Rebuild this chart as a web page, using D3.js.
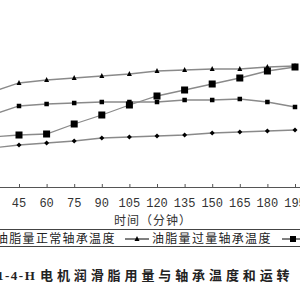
<!DOCTYPE html>
<html>
<head>
<meta charset="utf-8">
<script src="https://cdn.jsdelivr.net/npm/d3@7"></script>
<style>
  html, body { margin: 0; padding: 0; background: #fff; }
  svg { display: block; }
</style>
</head>
<body>
<script>
// time in minutes (first point sits just off the left edge)
const minutes = [30, 45, 60, 75, 90, 105, 120, 135, 150, 165, 180, 195]
const tickLabels = ['45', '60', '75', '90', '105', '120', '135', '150', '165', '180', '195']

// bearing temperature series
const seriesTriangle = [43.75, 46, 46.75, 47.25, 47.75, 48.25, 49, 49.25, 49.5, 49.5, 50, 50.25]
const seriesSmallSq  = [38, 40.25, 40.75, 41, 41.25, 41.25, 41.25, 41.75, 41.75, 42, 41.25, 40]
const seriesBigSq    = [32.5, 33, 33.25, 35.75, 38, 40.5, 42.75, 44.25, 45.75, 47.25, 49, 50]
const seriesDot      = [29.75, 30.5, 31, 31.5, 32.25, 32.5, 32.75, 33, 33.5, 33.75, 34, 34.25]

const legendLabels = ['油脂量正常轴承温度', '油脂量过量轴承温度']
const axisTitle = '时间（分钟）'
const captionNum = '1-4-H'
const captionText = '电机润滑脂用量与轴承温度和运转'

const width = 300
const height = 300

const svg = d3.select('body')
  .append('svg')
  .attr('width', width)
  .attr('height', height)

const x = d3.scaleLinear().domain([45, 195]).range([19, 295])
const y = d3.scaleLinear().domain([20, 50]).range([187, 67])

const line = d3.line()
  .x((d, i) => x(minutes[i]))
  .y(d => y(d))

// x axis with upward ticks
const axis = svg.append('g')
  .attr('transform', 'translate(0,187)')
  .call(d3.axisTop(x).tickValues(minutes.slice(1)).tickSize(3).tickFormat(''))
axis.select('.domain').remove()
axis.selectAll('.tick line').attr('stroke', '#555')
svg.append('line')
  .attr('x1', 0).attr('x2', width)
  .attr('y1', 187.5).attr('y2', 187.5)
  .attr('stroke', '#555')

svg.append('g')
  .selectAll('text')
  .data(tickLabels)
  .join('text')
    .attr('x', (d, i) => x(minutes[i + 1]))
    .attr('y', 207)
    .attr('text-anchor', 'middle')
    .attr('font-family', 'Liberation Mono, monospace')
    .attr('font-size', 12)
    .attr('fill', '#333')
    .text(d => d)

svg.append('text')
  .attr('x', 153)
  .attr('y', 225)
  .attr('text-anchor', 'middle')
  .attr('font-family', 'Noto Sans CJK SC')
  .attr('font-size', 12)
  .attr('letter-spacing', 1)
  .attr('fill', '#333')
  .text(axisTitle)

// series lines
const series = [
  { values: seriesDot, shape: 'diamond', size: 5 },
  { values: seriesBigSq, shape: 'square', size: 7 },
  { values: seriesSmallSq, shape: 'square', size: 4.5 },
  { values: seriesTriangle, shape: 'triangle', size: 5 }
]

for (let s of series) {
  svg.append('path')
    .attr('d', line(s.values))
    .attr('fill', 'none')
    .attr('stroke', '#8a8a8a')
    .attr('stroke-width', 1.3)
}

function drawMarker (g, shape, size, cx, cy) {
  if (shape === 'square') {
    g.append('rect')
      .attr('x', cx - size / 2).attr('y', cy - size / 2)
      .attr('width', size).attr('height', size)
      .attr('fill', '#000')
  } else if (shape === 'triangle') {
    g.append('path')
      .attr('d', `M${cx},${cy - size * 0.6}L${cx + size / 2},${cy + size * 0.4}L${cx - size / 2},${cy + size * 0.4}Z`)
      .attr('fill', '#000')
  } else {
    g.append('path')
      .attr('d', `M${cx},${cy - size / 2}L${cx + size / 2},${cy}L${cx},${cy + size / 2}L${cx - size / 2},${cy}Z`)
      .attr('fill', '#000')
  }
}

const markers = svg.append('g')
for (let s of series) {
  s.values.forEach((v, i) => drawMarker(markers, s.shape, s.size, x(minutes[i]), y(v)))
}

// legend box
svg.append('line')
  .attr('x1', 0).attr('x2', width).attr('y1', 229.5).attr('y2', 229.5)
  .attr('stroke', '#444')
svg.append('line')
  .attr('x1', 0).attr('x2', width).attr('y1', 246.5).attr('y2', 246.5)
  .attr('stroke', '#444')

const legendText = svg.append('g')
  .attr('font-family', 'Noto Sans CJK SC')
  .attr('font-size', 12)
  .attr('letter-spacing', 1.3)
  .attr('fill', '#222')
legendText.append('text').attr('x', -4).attr('y', 243).text(legendLabels[0])
legendText.append('text').attr('x', 152).attr('y', 243).text(legendLabels[1])

svg.append('line')
  .attr('x1', 125).attr('x2', 149).attr('y1', 239).attr('y2', 239)
  .attr('stroke', '#000')
drawMarker(svg, 'triangle', 5, 137, 239)
svg.append('line')
  .attr('x1', 282).attr('x2', 306).attr('y1', 239).attr('y2', 239)
  .attr('stroke', '#000')
drawMarker(svg, 'square', 6, 293, 239)

// caption, figure number clipped at the left edge
svg.append('text')
  .attr('x', -3)
  .attr('y', 280)
  .attr('font-family', 'Liberation Serif, serif')
  .attr('font-weight', 'bold')
  .attr('font-size', 13)
  .attr('letter-spacing', 1.5)
  .attr('fill', '#222')
  .text(captionNum)
svg.append('text')
  .attr('x', 40)
  .attr('y', 280)
  .attr('font-family', 'Noto Sans CJK SC')
  .attr('font-weight', 'bold')
  .attr('font-size', 13)
  .attr('letter-spacing', 3.9)
  .attr('fill', '#222')
  .text(captionText)
</script>
</body>
</html>
